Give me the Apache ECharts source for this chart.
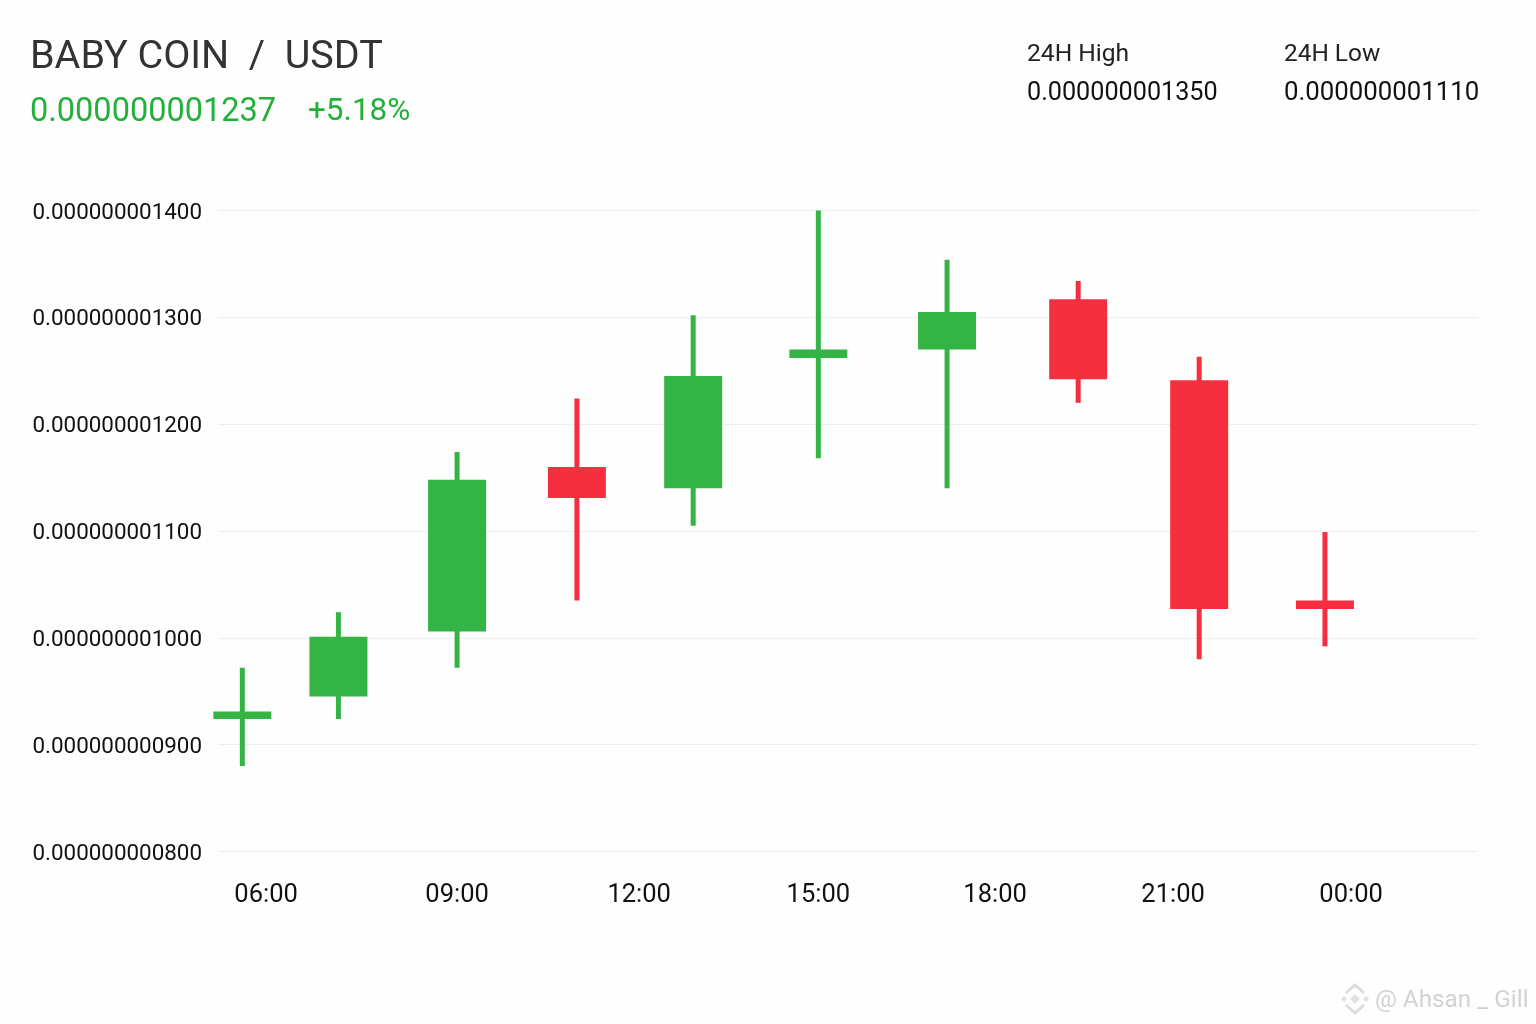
<!DOCTYPE html>
<html>
<head>
<meta charset="utf-8">
<style>html,body{margin:0;padding:0;background:#fefefe}#c{width:1536px;height:1024px}</style>
<script src="https://cdn.jsdelivr.net/npm/echarts@6/dist/echarts.min.js"></script>
</head>
<body>
<div id="c"></div>
<script>
// Candle x positions on the time axis (hours)
const candleHours = [5.31, 6.93, 8.93, 10.95, 12.91, 15.02, 17.19, 19.40, 21.44, 23.56];
// Prices, in units of 1e-12
const opens  = [924,  945, 1006, 1160, 1140, 1262, 1270, 1317, 1241, 1035];
const closes = [931, 1001, 1148, 1131, 1245, 1270, 1305, 1242, 1027, 1027];
const lows   = [880,  924,  972, 1035, 1105, 1168, 1140, 1220,  980,  992];
const highs  = [972, 1024, 1174, 1224, 1302, 1400, 1354, 1334, 1263, 1099];
// X axis labels and where they sit (hours)
const tickLabels = ['06:00', '09:00', '12:00', '15:00', '18:00', '21:00', '00:00'];
const tickHours  = [5.71, 8.93, 12, 15.02, 18, 21, 24];

const GREEN = '#34b444', RED = '#f52f40';
const FONT = 'Roboto';
const rows = candleHours.map((h, i) => [h, opens[i], closes[i], lows[i], highs[i]]);

const chart = echarts.init(document.getElementById('c'), null, {renderer: 'canvas'});
chart.setOption({
  backgroundColor: '#fefefe',
  animation: false,
  grid: {left: 218, right: 58, top: 210.5, bottom: 172.5},
  xAxis: {
    type: 'value', min: 4.9, max: 26.14,
    splitLine: {show: false}, axisLine: {show: false}, axisTick: {show: false},
    axisLabel: {
      customValues: tickHours,
      formatter: v => tickLabels[tickHours.indexOf(v)] ?? '',
      fontFamily: FONT, fontSize: 25.5, color: '#111', margin: 31
    }
  },
  yAxis: {
    type: 'value', min: 800, max: 1400, interval: 100,
    axisLine: {show: false}, axisTick: {show: false},
    splitLine: {lineStyle: {color: '#eeeeee', width: 1}},
    axisLabel: {
      formatter: v => '{t|' + (v / 1e12).toFixed(12) + '}',
      margin: 16,
      rich: {t: {fontFamily: FONT, fontSize: 22.4, color: '#111', padding: [5, 0, 0, 0]}}
    }
  },
  series: [{
    type: 'custom',
    data: rows,
    clip: false,
    encode: {x: 0, y: [1, 2, 3, 4]},
    renderItem: (params, api) => {
      const x = api.value(0), o = api.value(1), c = api.value(2), l = api.value(3), h = api.value(4);
      const color = c >= o ? GREEN : RED;
      const pHigh = api.coord([x, h]), pLow = api.coord([x, l]);
      const pTop = api.coord([x, Math.max(o, c)]), pBot = api.coord([x, Math.min(o, c)]);
      const bodyW = 58, wickW = 5;
      return {type: 'group', children: [
        {type: 'rect', shape: {x: pHigh[0] - wickW / 2, y: pHigh[1], width: wickW, height: pLow[1] - pHigh[1]}, style: {fill: color}},
        {type: 'rect', shape: {x: pTop[0] - bodyW / 2, y: pTop[1], width: bodyW, height: pBot[1] - pTop[1]}, style: {fill: color}}
      ]};
    }
  }],
  graphic: [
    {type: 'text', left: 30, top: 38, style: {text: 'BABY COIN  /  USDT', fontFamily: FONT, fontSize: 39.5, fill: '#333'}},
    {type: 'text', left: 30, top: 96, style: {text: '0.000000001237', fontFamily: FONT, fontSize: 32.5, fill: '#22b03a'}},
    {type: 'text', left: 308, top: 96, style: {text: '+5.18%', fontFamily: FONT, fontSize: 31.5, fill: '#22b03a'}},
    {type: 'text', left: 1027, top: 42, style: {text: '24H High', fontFamily: FONT, fontSize: 24.6, fill: '#222'}},
    {type: 'text', left: 1027, top: 81, style: {text: '0.000000001350', fontFamily: FONT, fontSize: 25.2, fill: '#111'}},
    {type: 'text', left: 1284, top: 43, style: {text: '24H Low', fontFamily: FONT, fontSize: 24.4, fill: '#222'}},
    {type: 'text', left: 1284, top: 81, style: {text: '0.000000001110', fontFamily: FONT, fontSize: 25.8, fill: '#111'}},
    {type: 'text', left: 1375, top: 989, style: {text: '@ Ahsan _ Gill', fontFamily: FONT, fontSize: 24.3, fill: '#d2d2d2'}},
    {type: 'polyline', shape: {points: [[1346,993],[1355,985],[1364,993]]}, style: {fill: 'none', stroke: '#dcdcdc', lineWidth: 3}},
    {type: 'polyline', shape: {points: [[1346,1005],[1355,1013],[1364,1005]]}, style: {fill: 'none', stroke: '#dcdcdc', lineWidth: 3}},
    {type: 'polygon', shape: {points: [[1344,996],[1347,999],[1344,1002],[1341,999]]}, style: {fill: '#e0e0e0'}},
    {type: 'polygon', shape: {points: [[1366,996],[1369,999],[1366,1002],[1363,999]]}, style: {fill: '#e0e0e0'}},
    {type: 'polygon', shape: {points: [[1355,994],[1360,999],[1355,1004],[1350,999]]}, style: {fill: '#e2e2e2'}}
  ]
});
</script>
</body>
</html>
